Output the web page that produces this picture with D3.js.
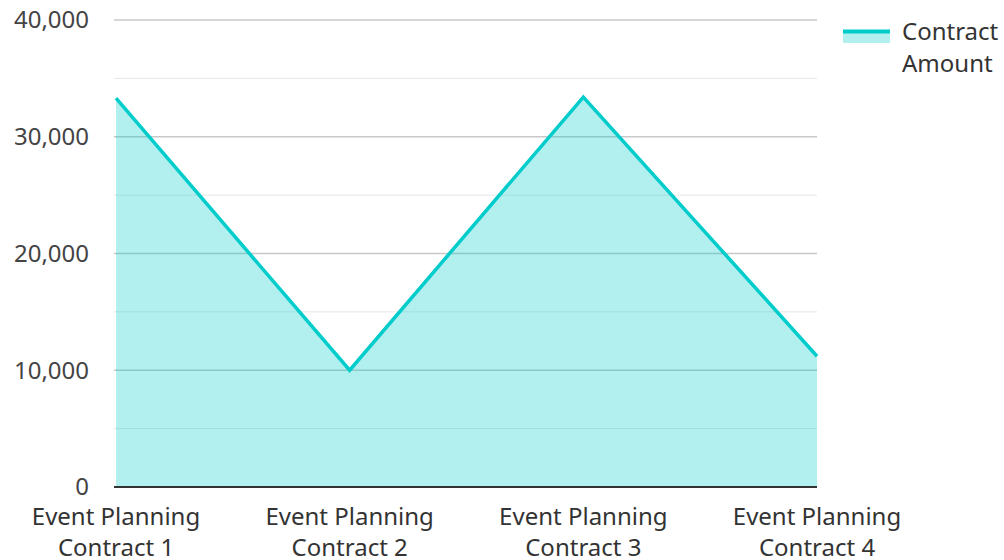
<!DOCTYPE html>
<html><head><meta charset="utf-8">
<script src="https://cdn.jsdelivr.net/npm/d3@7"></script>
<style>body{margin:0;background:#fff;} text{font-family:"Noto Sans","Open Sans",sans-serif;}</style>
</head><body>
<svg id="c" width="1004" height="560"></svg>
<script>
const categories = ["Event Planning Contract 1","Event Planning Contract 2","Event Planning Contract 3","Event Planning Contract 4"];
const contractAmount = [33300, 10000, 33400, 11200];
const yTicks = [0, 10000, 20000, 30000, 40000];
const yMinorTicks = [5000, 15000, 25000, 35000];
const seriesName = ["Contract", "Amount"];

const svg = d3.select("#c");
const x = d3.scalePoint().domain(categories).range([116, 817]);
const y = d3.scaleLinear().domain([0, 40000]).range([487, 20]);
const lineColor = "#00cccc";
const fillColor = "rgba(0,204,204,0.3)";
const fs = 24;

// grid
svg.append("g").selectAll("line").data(yMinorTicks).join("line")
  .attr("x1", 114).attr("x2", 817).attr("y1", d => y(d)).attr("y2", d => y(d))
  .attr("stroke", "#e6e6e6").attr("stroke-width", 1);
svg.append("g").selectAll("line").data(yTicks.filter(d => d > 0)).join("line")
  .attr("x1", 114).attr("x2", 817).attr("y1", d => y(d)).attr("y2", d => y(d))
  .attr("stroke", "#c8c8c8").attr("stroke-width", 1.3);

// area
const data = categories.map((c, i) => ({c, v: contractAmount[i]}));
svg.append("path").datum(data)
  .attr("d", d3.area().x(d => x(d.c)).y0(y(0)).y1(d => y(d.v)))
  .attr("fill", fillColor);
svg.append("path").datum(data)
  .attr("d", d3.line().x(d => x(d.c)).y(d => y(d.v)))
  .attr("fill", "none").attr("stroke", lineColor).attr("stroke-width", 3.5);

// baseline
svg.append("line").attr("x1", 114).attr("x2", 817).attr("y1", y(0)).attr("y2", y(0))
  .attr("stroke", "#333").attr("stroke-width", 2);

// y labels
const fmt = d3.format(",");
svg.append("g").selectAll("text").data(yTicks).join("text")
  .attr("x", 89).attr("y", d => y(d)).attr("dy", "0.35em")
  .attr("text-anchor", "end").attr("font-size", fs).attr("fill", "#444")
  .text(d => fmt(d));

// x labels (wrapped)
const xl = svg.append("g").selectAll("text").data(categories).join("text")
  .attr("text-anchor", "middle").attr("font-size", fs).attr("fill", "#333");
xl.each(function(d) {
  const t = d3.select(this);
  const parts = [d.replace(/ Contract.*/, ""), d.replace(/^.*?(Contract)/, "$1")];
  parts.forEach((p, i) => t.append("tspan").attr("x", x(d)).attr("y", 525 + i * 31).text(p));
});

// legend
svg.append("rect").attr("x", 843).attr("y", 30).attr("width", 47).attr("height", 13).attr("fill", fillColor);
svg.append("line").attr("x1", 843).attr("x2", 890).attr("y1", 31.5).attr("y2", 31.5)
  .attr("stroke", lineColor).attr("stroke-width", 4);
const lt = svg.append("text").attr("font-size", fs).attr("fill", "#333");
seriesName.forEach((s, i) => lt.append("tspan").attr("x", 902).attr("y", 40 + i * 32).text(s));
</script>
</body></html>
